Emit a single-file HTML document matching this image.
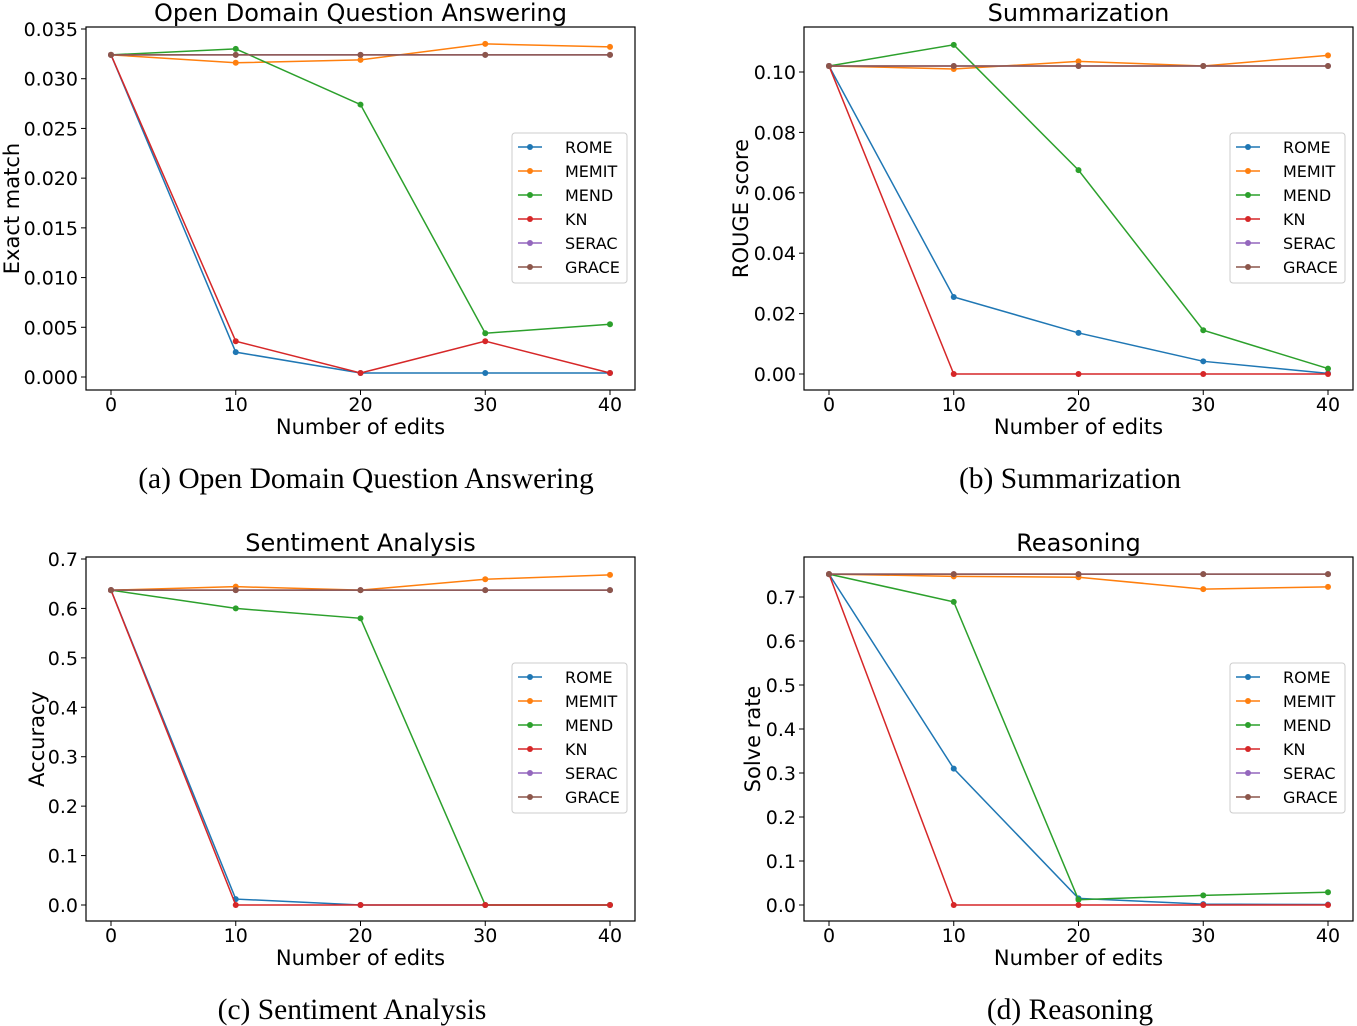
<!DOCTYPE html>
<html><head><meta charset="utf-8"><style>
body{margin:0;background:#fff;width:1357px;height:1026px;overflow:hidden}
svg{display:block}
text{font-family:"DejaVu Sans","Liberation Sans",sans-serif;fill:#000}
.cap{font-family:"Liberation Serif",serif;font-size:29.5px}
</style></head><body>
<svg id="fig" width="1357" height="1026" xmlns="http://www.w3.org/2000/svg"></svg>
<script>
const methods = ["ROME","MEMIT","MEND","KN","SERAC","GRACE"];
const colors = ["#1f77b4","#ff7f0e","#2ca02c","#d62728","#9467bd","#8c564b"];
const xEdits = [0,10,20,30,40];
const xTicks = [0,10,20,30,40];

const odqaRome = [0.0324,0.0025,0.0004,0.0004,0.0004];
const odqaMemit = [0.0324,0.0316,0.0319,0.0335,0.0332];
const odqaMend = [0.0324,0.0330,0.0274,0.0044,0.0053];
const odqaKn = [0.0324,0.0036,0.0004,0.0036,0.0004];
const odqaSerac = [0.0324,0.0324,0.0324,0.0324,0.0324];
const odqaGrace = [0.0324,0.0324,0.0324,0.0324,0.0324];
const odqaTicks = ["0.000","0.005","0.010","0.015","0.020","0.025","0.030","0.035"];

const sumRome = [0.102,0.0255,0.0136,0.0042,0.0002];
const sumMemit = [0.102,0.101,0.1035,0.102,0.1055];
const sumMend = [0.102,0.109,0.0675,0.0145,0.0018];
const sumKn = [0.102,0,0,0,0];
const sumSerac = [0.102,0.102,0.102,0.102,0.102];
const sumGrace = [0.102,0.102,0.102,0.102,0.102];
const sumTicks = ["0.00","0.02","0.04","0.06","0.08","0.10"];

const sentRome = [0.637,0.012,0,0,0];
const sentMemit = [0.637,0.644,0.637,0.659,0.668];
const sentMend = [0.637,0.600,0.580,0,0];
const sentKn = [0.637,0,0,0,0];
const sentSerac = [0.637,0.637,0.637,0.637,0.637];
const sentGrace = [0.637,0.637,0.637,0.637,0.637];
const sentTicks = ["0.0","0.1","0.2","0.3","0.4","0.5","0.6","0.7"];

const reasRome = [0.752,0.31,0.015,0.002,0.001];
const reasMemit = [0.752,0.747,0.745,0.718,0.723];
const reasMend = [0.752,0.689,0.012,0.022,0.029];
const reasKn = [0.752,0,0,0,0];
const reasSerac = [0.752,0.752,0.752,0.752,0.752];
const reasGrace = [0.752,0.752,0.752,0.752,0.752];
const reasTicks = ["0.0","0.1","0.2","0.3","0.4","0.5","0.6","0.7"];

const NS="http://www.w3.org/2000/svg";
const svg=document.getElementById('fig');
function mk(tag,attrs,parent){const e=document.createElementNS(NS,tag);for(const k in attrs)e.setAttribute(k,attrs[k]);(parent||svg).appendChild(e);return e;}

const panels=[
 {key:"odqa",title:"Open Domain Question Answering",ylabel:"Exact match",cap:"(a) Open Domain Question Answering",series:[odqaRome,odqaMemit,odqaMend,odqaKn,odqaSerac,odqaGrace],ticks:odqaTicks,
  box:[86,27,635,390],x0:111,x1:610,yv0:0,yp0:377,yv1:0.035,yp1:29,capY:488,capX:366,ylx:19},
 {key:"summ",title:"Summarization",ylabel:"ROUGE score",cap:"(b) Summarization",series:[sumRome,sumMemit,sumMend,sumKn,sumSerac,sumGrace],ticks:sumTicks,
  box:[804,27,1353,390],x0:829,x1:1328,yv0:0,yp0:374,yv1:0.10,yp1:72,capY:488,capX:1070,ylx:748},
 {key:"sent",title:"Sentiment Analysis",ylabel:"Accuracy",cap:"(c) Sentiment Analysis",series:[sentRome,sentMemit,sentMend,sentKn,sentSerac,sentGrace],ticks:sentTicks,
  box:[86,557,635,921],x0:111,x1:610,yv0:0,yp0:905,yv1:0.7,yp1:559,capY:1019,capX:352,ylx:44},
 {key:"reas",title:"Reasoning",ylabel:"Solve rate",cap:"(d) Reasoning",series:[reasRome,reasMemit,reasMend,reasKn,reasSerac,reasGrace],ticks:reasTicks,
  box:[804,557,1353,921],x0:829,x1:1328,yv0:0,yp0:905,yv1:0.7,yp1:597,capY:1019,capX:1070,ylx:760}
];

panels.forEach(p=>{
 const g=mk('g',{});
 
 
 const sx=v=>p.x0+(v-xEdits[0])*(p.x1-p.x0)/(xEdits[xEdits.length-1]-xEdits[0]);
 const sy=v=>p.yp0+(v-p.yv0)*(p.yp1-p.yp0)/(p.yv1-p.yv0);
 const [L,T,R,B]=p.box;
 const cx=(L+R)/2;
 const t=mk('text',{x:cx,y:T-6,'font-size':24,'text-anchor':'middle'},g);t.textContent=p.title;
 
 p.series.forEach((vals,i)=>{
  const pts=vals.map((v,j)=>sx(xEdits[j])+','+sy(v)).join(' ');
  const pl=mk('polyline',{points:pts,fill:'none',stroke:colors[i],'stroke-width':1.5},g);
  
  
  vals.forEach((v,j)=>{
   const c=mk('circle',{cx:sx(xEdits[j]),cy:sy(v),r:3,fill:colors[i]},g);
   
   
  });
 });
 const box=mk('rect',{x:L,y:T,width:R-L,height:B-T,fill:'none',stroke:'#000','stroke-width':1.2},g);
 
 xTicks.forEach(v=>{
  mk('line',{x1:sx(v),x2:sx(v),y1:B,y2:B+5,stroke:'#000'},g);
  const tx=mk('text',{x:sx(v),y:B+21,'font-size':19,'text-anchor':'middle'},g);tx.textContent=v;
  
 });
 const xl=mk('text',{x:cx,y:B+44,'font-size':21,'text-anchor':'middle'},g);xl.textContent="Number of edits";
 
 p.ticks.forEach(s=>{
  const v=parseFloat(s);const y=sy(v);
  mk('line',{x1:L-5,x2:L,y1:y,y2:y,stroke:'#000'},g);
  const ty=mk('text',{x:L-8,y:y+7,'font-size':19,'text-anchor':'end'},g);ty.textContent=s;
  
 });
 const yl=mk('text',{x:0,y:0,'font-size':21,'text-anchor':'middle',transform:`translate(${p.ylx},${(T+B)/2}) rotate(-90)`},g);
 yl.textContent=p.ylabel;
 
 const lx=R-123, ly=T+106;
 const lg=mk('g',{},g);
 
 mk('rect',{x:lx,y:ly,width:115,height:150,rx:3,fill:'#fff',stroke:'#ccc'},lg);
 methods.forEach((m,i)=>{
  const yy=ly+14+i*24;
  const e=mk('g',{},lg);
  
  mk('line',{x1:lx+6,x2:lx+30,y1:yy,y2:yy,stroke:colors[i],'stroke-width':1.5},e);
  mk('circle',{cx:lx+18,cy:yy,r:3,fill:colors[i]},e);
  const tt=mk('text',{x:lx+53,y:yy+6,'font-size':16},e);tt.textContent=m;
 });
 const cp=mk('text',{x:p.capX,y:p.capY,'text-anchor':'middle','class':'cap'},g);cp.textContent=p.cap;
 
});
</script>
</body></html>
